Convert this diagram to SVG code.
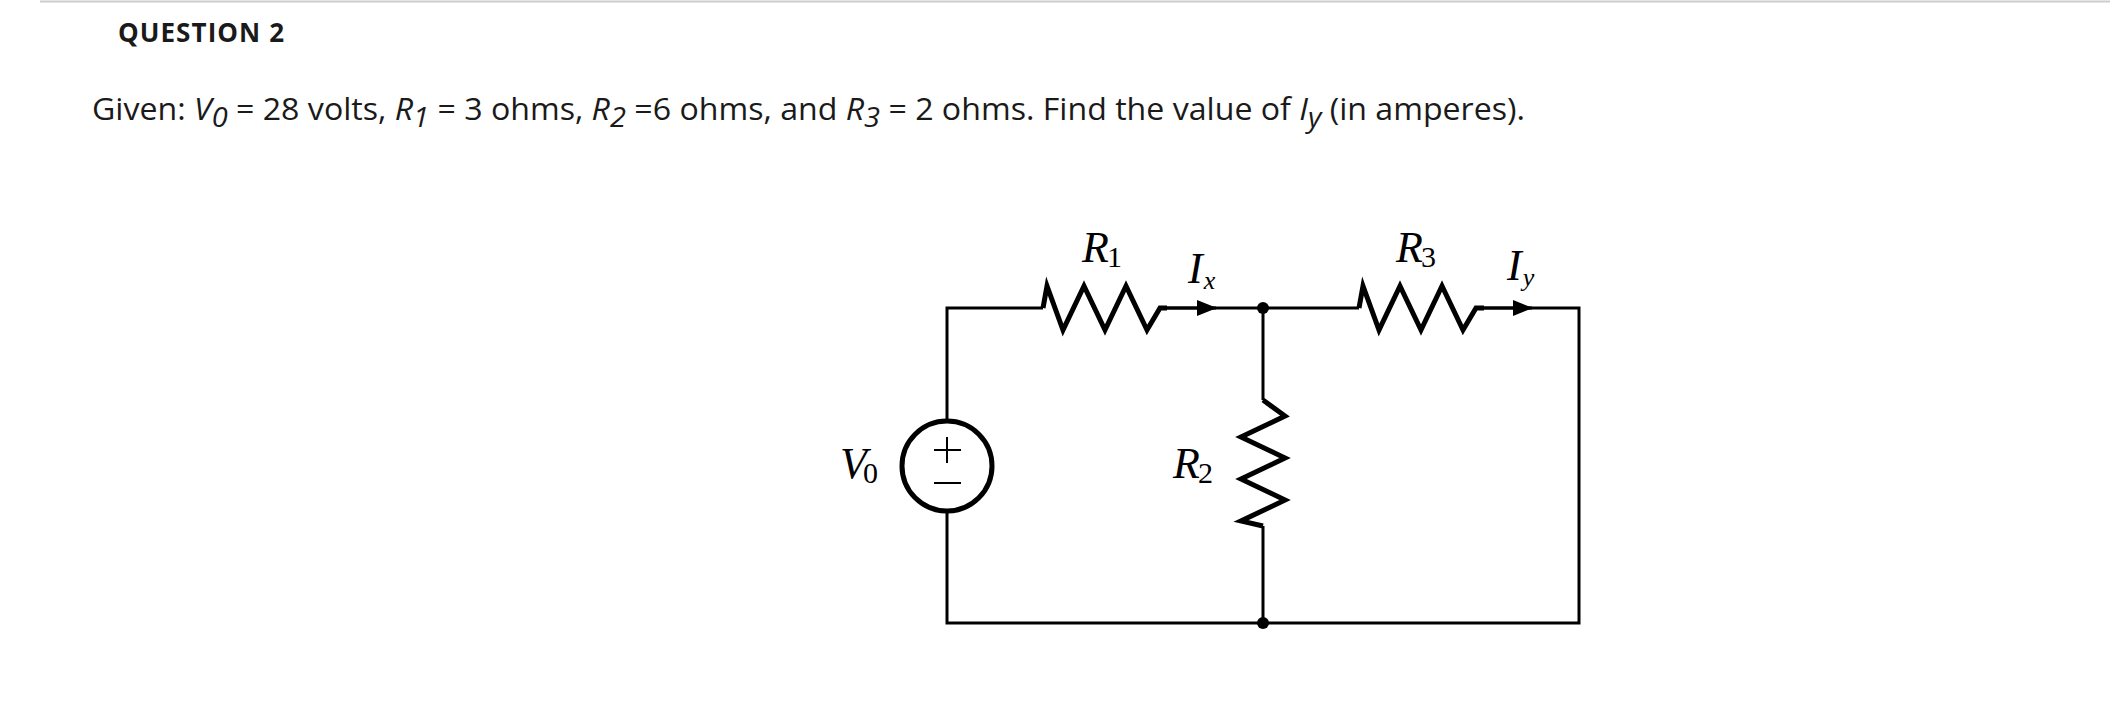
<svg xmlns="http://www.w3.org/2000/svg" width="2110" height="708" viewBox="0 0 2110 708">
<style>
.w{stroke:#000;stroke-width:3;fill:none}
.z{stroke:#000;stroke-width:5;fill:none;stroke-linejoin:miter}
.lab{font-family:"Liberation Serif",serif;font-style:italic;font-size:44px}
.sub{font-family:"Liberation Serif",serif;font-style:normal;font-size:30px}
.t{font-family:"Open Sans","Noto Sans",sans-serif;fill:#1a1a1a}
</style>
<defs><marker id="ar" markerWidth="20" markerHeight="20" refX="19" refY="10" orient="auto" markerUnits="userSpaceOnUse"><path d="M0,2 L20,10 L0,18z"/></marker></defs>
<rect width="2110" height="708" fill="#fff"/>
<line x1="40" y1="1.5" x2="2110" y2="1.5" stroke="#ccc" stroke-width="2"/>
<text class="t" x="118" y="42" font-size="26" font-weight="bold" textLength="166">QUESTION 2</text>
<text class="t" x="92" y="120" font-size="31" textLength="1433" lengthAdjust="spacingAndGlyphs">Given:  <tspan font-style="italic">V</tspan><tspan font-style="italic" font-size="28" dy="7">0</tspan><tspan dy="-7"> = 28 volts, </tspan><tspan font-style="italic">R</tspan><tspan font-style="italic" font-size="28" dy="7">1</tspan><tspan dy="-7"> = 3 ohms, </tspan><tspan font-style="italic">R</tspan><tspan font-style="italic" font-size="28" dy="7">2</tspan><tspan dy="-7"> =6 ohms, and </tspan><tspan font-style="italic">R</tspan><tspan font-style="italic" font-size="28" dy="7">3</tspan><tspan dy="-7"> = 2 ohms. Find the value of </tspan><tspan font-style="italic">I</tspan><tspan font-style="italic" font-size="28" dy="7">y</tspan><tspan dy="-7"> (in amperes).</tspan></text>
<g id="connectors">
<path class="w" d="M1043,308 H947 V420 M947,512 V623 H1579 V308 H1484 M1359,308 H1167 M1263,308 V400 M1263,526 V623"/>
<line class="w" x1="1167" y1="308" x2="1216" y2="308" marker-end="url(#ar)"/>
<line class="w" x1="1484" y1="308" x2="1532" y2="308" marker-end="url(#ar)"/>
<circle cx="1263" cy="308" r="6"/><circle cx="1263" cy="623" r="6"/>
</g>
<g id="R1"><path class="z" d="M1043,308 L1047,286 L1063,330 L1084,286 L1105,330 L1126,286 L1147,330 L1160,308 H1167"/>
<text class="lab" x="1082" y="262">R<tspan class="sub" dx="-2" dy="5">1</tspan></text></g>
<g id="R3"><path class="z" d="M1359,308 L1363,286 L1379,330 L1400,286 L1421,330 L1442,286 L1463,330 L1476,308 H1484"/>
<text class="lab" x="1396" y="262">R<tspan class="sub" dx="-2" dy="5">3</tspan></text></g>
<g id="R2"><path class="z" d="M1263,400 L1285,416 L1241,437 L1285,458 L1241,479 L1285,500 L1241,521 L1263,526"/>
<text class="lab" x="1173" y="478">R<tspan class="sub" dx="-2" dy="5">2</tspan></text></g>
<g id="V0"><circle cx="947" cy="466" r="45" stroke="#000" stroke-width="5" fill="#fff"/>
<path d="M934,450 H961 M947,437 V463 M934,483 H961" stroke="#000" stroke-width="2"/>
<text class="lab" x="840" y="478">V<tspan class="sub" dx="-4" dy="5">0</tspan></text></g>
<g id="Ix"><text class="lab" x="1188" y="283">I<tspan font-size="26" dx="1" dy="6">x</tspan></text></g>
<g id="Iy"><text class="lab" x="1507" y="280">I<tspan font-size="26" dx="1" dy="6">y</tspan></text></g>
</svg>
